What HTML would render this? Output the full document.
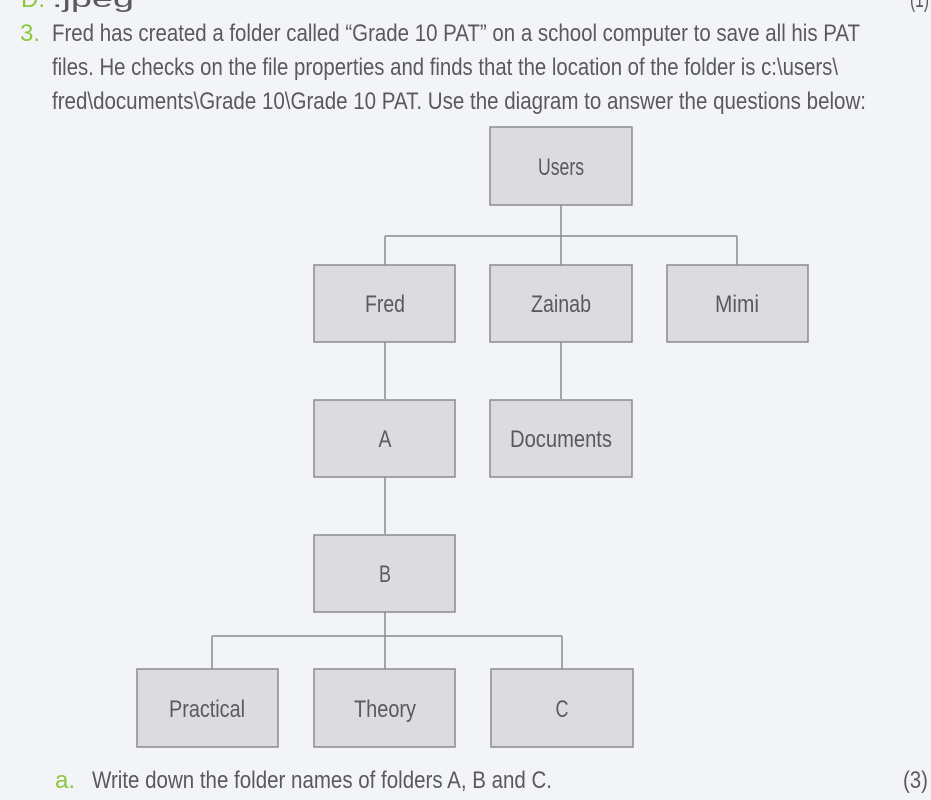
<!DOCTYPE html>
<html><head><meta charset="utf-8"><style>
html,body{margin:0;padding:0;background:#f3f4f7;}
svg{display:block;}
text{font-family:"Liberation Sans Narrow","Liberation Sans",sans-serif;fill:#5a5a5e;}
</style></head><body>
<svg width="931" height="800" viewBox="0 0 931 800" xmlns="http://www.w3.org/2000/svg">
<rect width="931" height="800" fill="#f3f4f7"/>
<text x="21" y="7" font-size="24" style="fill:#8dc63f">D.</text>
<text x="52" y="7" font-size="24" textLength="82" lengthAdjust="spacingAndGlyphs">.jpeg</text>
<text x="910" y="7" font-size="24" textLength="19" lengthAdjust="spacingAndGlyphs">(1)</text>
<text x="20" y="41" font-size="24" style="fill:#8dc63f">3.</text>
<text x="52" y="41" font-size="24" textLength="808" lengthAdjust="spacingAndGlyphs">Fred has created a folder called “Grade 10 PAT” on a school computer to save all his PAT</text>
<text x="52" y="75" font-size="24" textLength="786" lengthAdjust="spacingAndGlyphs">files. He checks on the file properties and finds that the location of the folder is c:\users\</text>
<text x="52" y="109" font-size="24" textLength="814" lengthAdjust="spacingAndGlyphs">fred\documents\Grade 10\Grade 10 PAT. Use the diagram to answer the questions below:</text>
<g stroke="#8a8b90" stroke-width="1.5" fill="none">
<path d="M561 205V265M385 236H737M385 236V265M737 236V265"/>
<path d="M385 342V399M561 342V399M385 477V534"/>
<path d="M385 612V669M212 636H562M212 636V669M562 636V669"/>
</g>
<g fill="#dcdcde" stroke="#8a8b90" stroke-width="1.5">
<rect x="490" y="127" width="142" height="78"/>
<rect x="314" y="265" width="141" height="77"/>
<rect x="490" y="265" width="142" height="77"/>
<rect x="667" y="265" width="141" height="77"/>
<rect x="314" y="400" width="141" height="77"/>
<rect x="490" y="400" width="142" height="77"/>
<rect x="314" y="535" width="141" height="77"/>
<rect x="137" y="669" width="141" height="78"/>
<rect x="314" y="669" width="141" height="78"/>
<rect x="491" y="669" width="142" height="78"/>
</g>
<g font-size="24" text-anchor="middle">
<text x="561" y="175" textLength="46" lengthAdjust="spacingAndGlyphs">Users</text>
<text x="385" y="312" textLength="40" lengthAdjust="spacingAndGlyphs">Fred</text>
<text x="561" y="312" textLength="60" lengthAdjust="spacingAndGlyphs">Zainab</text>
<text x="737" y="312" textLength="44" lengthAdjust="spacingAndGlyphs">Mimi</text>
<text x="385" y="447" textLength="13" lengthAdjust="spacingAndGlyphs">A</text>
<text x="561" y="447" textLength="102" lengthAdjust="spacingAndGlyphs">Documents</text>
<text x="385" y="582" textLength="12" lengthAdjust="spacingAndGlyphs">B</text>
<text x="207" y="717" textLength="76" lengthAdjust="spacingAndGlyphs">Practical</text>
<text x="385" y="717" textLength="62" lengthAdjust="spacingAndGlyphs">Theory</text>
<text x="562" y="717" textLength="13" lengthAdjust="spacingAndGlyphs">C</text>
</g>
<text x="55" y="788" font-size="24" style="fill:#8dc63f">a.</text>
<text x="92" y="788" font-size="24" textLength="460" lengthAdjust="spacingAndGlyphs">Write down the folder names of folders A, B and C.</text>
<text x="903" y="788" font-size="24" textLength="25" lengthAdjust="spacingAndGlyphs">(3)</text>
</svg>
</body></html>
